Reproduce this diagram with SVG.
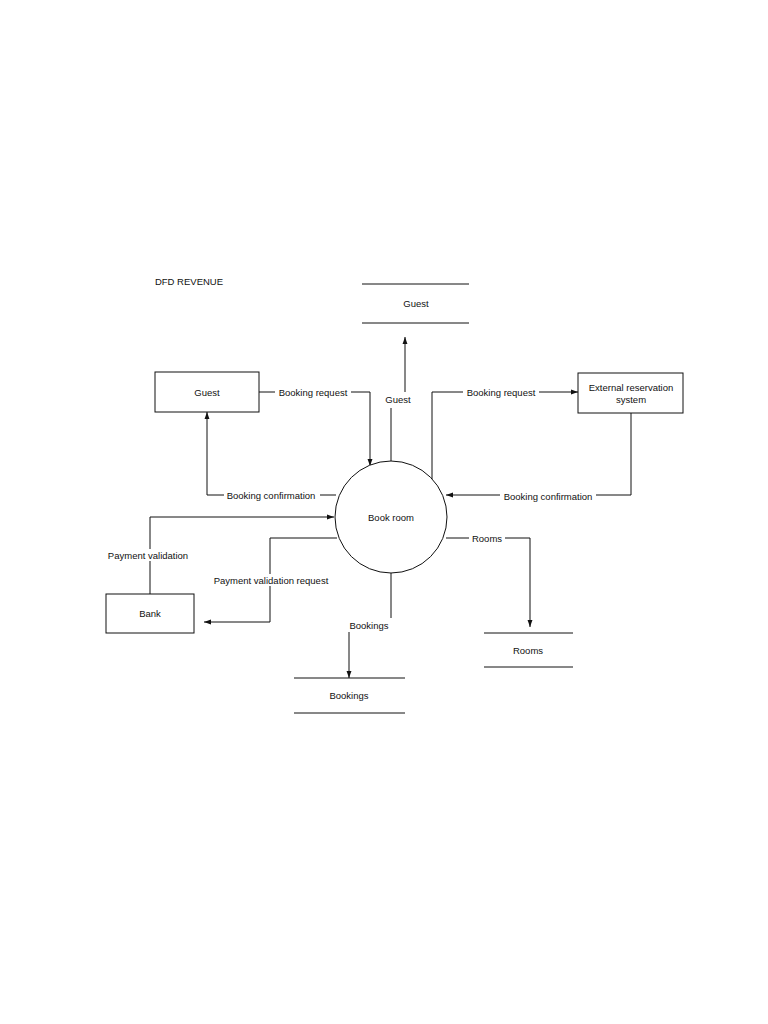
<svg xmlns="http://www.w3.org/2000/svg" width="768" height="1024" viewBox="0 0 768 1024">
<style>
text{font-family:"Liberation Sans",Arial,sans-serif;font-size:9.5px;fill:#111;text-anchor:middle;dominant-baseline:central}
.b{fill:#fff;stroke:#111;stroke-width:1}
.s{stroke:#111;stroke-width:1}
.c path{fill:none;stroke:#111;stroke-width:1}
.lb{fill:#fff;stroke:none}
</style>
<defs>
<marker id="a" viewBox="0 0 10 10" refX="10" refY="5" markerWidth="7" markerHeight="7" markerUnits="userSpaceOnUse" orient="auto">
<path d="M0,1.5 L10,5 L0,8.5 z" fill="#111"/>
</marker>
</defs>
<rect width="768" height="1024" fill="#fff"/>
<text x="189" y="281">DFD REVENUE</text>
<g class="c" id="connectors">
<path d="M259,392 H370 V466" marker-end="url(#a)"/>
<path d="M391,461 V408"/>
<path d="M405,392 V337" marker-end="url(#a)"/>
<path d="M432,479 V392 H578" marker-end="url(#a)"/>
<path d="M631,413 V495 H446" marker-end="url(#a)"/>
<path d="M336,495 H207 V412" marker-end="url(#a)"/>
<path d="M150,594 V517 H334" marker-end="url(#a)"/>
<path d="M337,538 H270 V622 H204" marker-end="url(#a)"/>
<path d="M446,538 H530 V627" marker-end="url(#a)"/>
<path d="M391,573 V618"/>
<path d="M349,632 V678" marker-end="url(#a)"/>
<rect class="lb" x="275" y="386" width="76" height="12"/>
<text x="313" y="392">Booking request</text>
<text x="398" y="399">Guest</text>
<rect class="lb" x="463" y="386" width="76" height="12"/>
<text x="501" y="392">Booking request</text>
<rect class="lb" x="500" y="489" width="96" height="12"/>
<text x="548" y="496">Booking confirmation</text>
<rect class="lb" x="224" y="489" width="96" height="12"/>
<text x="271" y="495">Booking confirmation</text>
<rect class="lb" x="105" y="549" width="86" height="12"/>
<text x="148" y="555">Payment validation</text>
<rect class="lb" x="210" y="574" width="122" height="12"/>
<text x="271" y="580">Payment validation request</text>
<rect class="lb" x="469" y="532" width="36" height="12"/>
<text x="487" y="538">Rooms</text>
<text x="369" y="625">Bookings</text>
</g>
<g id="book-room">
<circle class="b" cx="391" cy="517" r="56"/>
<text x="391" y="517">Book room</text>
</g>
<g id="guest-entity">
<rect class="b" x="155" y="372" width="104" height="40"/>
<text x="207" y="392">Guest</text>
</g>
<g id="external-reservation-system">
<rect class="b" x="578" y="373" width="105" height="40"/>
<text x="631" y="387">External reservation</text>
<text x="631" y="399">system</text>
</g>
<g id="bank">
<rect class="b" x="106" y="594" width="88" height="39"/>
<text x="150" y="613">Bank</text>
</g>
<g id="guest-store">
<line class="s" x1="362" y1="284" x2="469" y2="284"/>
<line class="s" x1="362" y1="323" x2="469" y2="323"/>
<text x="416" y="303">Guest</text>
</g>
<g id="rooms-store">
<line class="s" x1="484" y1="633" x2="573" y2="633"/>
<line class="s" x1="484" y1="667" x2="573" y2="667"/>
<text x="528" y="650">Rooms</text>
</g>
<g id="bookings-store">
<line class="s" x1="294" y1="678" x2="405" y2="678"/>
<line class="s" x1="294" y1="713" x2="405" y2="713"/>
<text x="349" y="695">Bookings</text>
</g>
</svg>
